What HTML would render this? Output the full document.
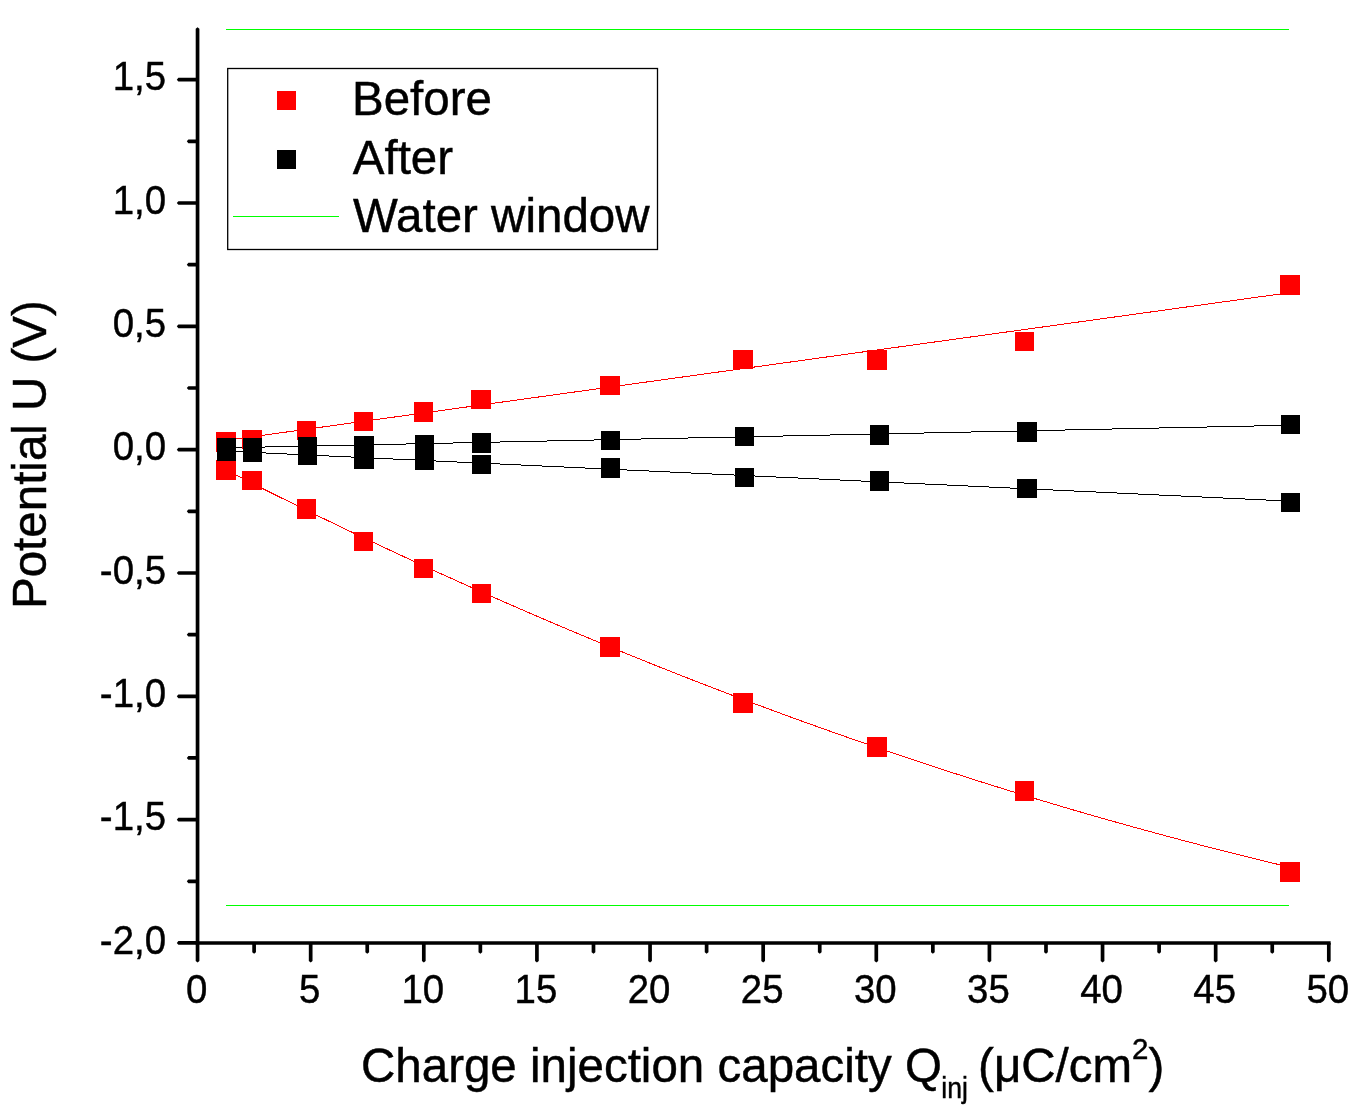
<!DOCTYPE html>
<html><head><meta charset="utf-8"><title>Potential vs charge injection capacity</title>
<style>
html,body{margin:0;padding:0;background:#fff;}
svg{display:block;}
.t{font-family:"Liberation Sans",Arial,sans-serif;fill:#000;stroke:#000;stroke-width:0.45px;}
</style></head>
<body>
<svg width="1358" height="1112" viewBox="0 0 1358 1112">
<rect width="1358" height="1112" fill="#fff"/>
<rect x="226" y="29" width="1063" height="1" fill="#00ff00"/>
<rect x="226" y="905" width="1063" height="1" fill="#00ff00"/>
<line x1="226" y1="440.42" x2="1290" y2="292.63" stroke="#ff0000" stroke-width="1" shape-rendering="crispEdges"/>
<polyline fill="none" stroke="#ff0000" stroke-width="1" shape-rendering="crispEdges" points="226,470.06 244.03,479.21 262.07,488.28 280.1,497.27 298.14,506.17 316.17,514.99 334.2,523.73 352.24,532.38 370.27,540.95 388.31,549.43 406.34,557.84 424.37,566.16 442.41,574.39 460.44,582.54 478.47,590.61 496.51,598.6 514.54,606.5 532.58,614.31 550.61,622.05 568.64,629.7 586.68,637.27 604.71,644.75 622.75,652.15 640.78,659.47 658.81,666.7 676.85,673.85 694.88,680.91 712.92,687.9 730.95,694.8 748.98,701.61 767.02,708.34 785.05,714.99 803.08,721.56 821.12,728.04 839.15,734.44 857.19,740.75 875.22,746.98 893.25,753.13 911.29,759.19 929.32,765.17 947.36,771.07 965.39,776.88 983.42,782.61 1001.46,788.26 1019.49,793.82 1037.53,799.3 1055.56,804.69 1073.59,810.01 1091.63,815.23 1109.66,820.38 1127.69,825.44 1145.73,830.42 1163.76,835.31 1181.8,840.12 1199.83,844.85 1217.86,849.5 1235.9,854.06 1253.93,858.53 1271.97,862.93 1290,867.24"/>
<line x1="226" y1="447.83" x2="1290" y2="425.23" stroke="#000000" stroke-width="1" shape-rendering="crispEdges"/>
<line x1="226" y1="451.15" x2="1290" y2="501.14" stroke="#000000" stroke-width="1" shape-rendering="crispEdges"/>
<rect x="216.05" y="432.25" width="19.5" height="19.5" fill="#ff0000" shape-rendering="crispEdges"/>
<rect x="242.35" y="429.95" width="19.5" height="19.5" fill="#ff0000" shape-rendering="crispEdges"/>
<rect x="296.95" y="420.75" width="19.5" height="19.5" fill="#ff0000" shape-rendering="crispEdges"/>
<rect x="353.65" y="411.75" width="19.5" height="19.5" fill="#ff0000" shape-rendering="crispEdges"/>
<rect x="413.65" y="402.25" width="19.5" height="19.5" fill="#ff0000" shape-rendering="crispEdges"/>
<rect x="471.25" y="389.75" width="19.5" height="19.5" fill="#ff0000" shape-rendering="crispEdges"/>
<rect x="600.25" y="375.95" width="19.5" height="19.5" fill="#ff0000" shape-rendering="crispEdges"/>
<rect x="733.25" y="349.55" width="19.5" height="19.5" fill="#ff0000" shape-rendering="crispEdges"/>
<rect x="867.05" y="350.05" width="19.5" height="19.5" fill="#ff0000" shape-rendering="crispEdges"/>
<rect x="1014.75" y="331.65" width="19.5" height="19.5" fill="#ff0000" shape-rendering="crispEdges"/>
<rect x="1280.05" y="275.35" width="19.5" height="19.5" fill="#ff0000" shape-rendering="crispEdges"/>
<rect x="216.05" y="460.25" width="19.5" height="19.5" fill="#ff0000" shape-rendering="crispEdges"/>
<rect x="242.35" y="470.75" width="19.5" height="19.5" fill="#ff0000" shape-rendering="crispEdges"/>
<rect x="296.95" y="499.05" width="19.5" height="19.5" fill="#ff0000" shape-rendering="crispEdges"/>
<rect x="353.55" y="531.85" width="19.5" height="19.5" fill="#ff0000" shape-rendering="crispEdges"/>
<rect x="413.85" y="558.75" width="19.5" height="19.5" fill="#ff0000" shape-rendering="crispEdges"/>
<rect x="471.65" y="583.85" width="19.5" height="19.5" fill="#ff0000" shape-rendering="crispEdges"/>
<rect x="600.25" y="637.25" width="19.5" height="19.5" fill="#ff0000" shape-rendering="crispEdges"/>
<rect x="733.45" y="693.35" width="19.5" height="19.5" fill="#ff0000" shape-rendering="crispEdges"/>
<rect x="867.15" y="737.25" width="19.5" height="19.5" fill="#ff0000" shape-rendering="crispEdges"/>
<rect x="1014.55" y="781.05" width="19.5" height="19.5" fill="#ff0000" shape-rendering="crispEdges"/>
<rect x="1280.05" y="862.25" width="19.5" height="19.5" fill="#ff0000" shape-rendering="crispEdges"/>
<rect x="216.55" y="438.25" width="19.5" height="19.5" fill="#000000" shape-rendering="crispEdges"/>
<rect x="242.95" y="438.45" width="19.5" height="19.5" fill="#000000" shape-rendering="crispEdges"/>
<rect x="297.55" y="437.05" width="19.5" height="19.5" fill="#000000" shape-rendering="crispEdges"/>
<rect x="354.15" y="435.75" width="19.5" height="19.5" fill="#000000" shape-rendering="crispEdges"/>
<rect x="414.75" y="434.5" width="19.5" height="19.5" fill="#000000" shape-rendering="crispEdges"/>
<rect x="471.85" y="433.05" width="19.5" height="19.5" fill="#000000" shape-rendering="crispEdges"/>
<rect x="600.85" y="430.55" width="19.5" height="19.5" fill="#000000" shape-rendering="crispEdges"/>
<rect x="734.55" y="426.85" width="19.5" height="19.5" fill="#000000" shape-rendering="crispEdges"/>
<rect x="869.55" y="425.05" width="19.5" height="19.5" fill="#000000" shape-rendering="crispEdges"/>
<rect x="1017.15" y="422.45" width="19.5" height="19.5" fill="#000000" shape-rendering="crispEdges"/>
<rect x="1280.65" y="414.85" width="19.5" height="19.5" fill="#000000" shape-rendering="crispEdges"/>
<rect x="216.55" y="441.75" width="19.5" height="19.5" fill="#000000" shape-rendering="crispEdges"/>
<rect x="242.95" y="442.85" width="19.5" height="19.5" fill="#000000" shape-rendering="crispEdges"/>
<rect x="297.55" y="445.35" width="19.5" height="19.5" fill="#000000" shape-rendering="crispEdges"/>
<rect x="354.15" y="449.25" width="19.5" height="19.5" fill="#000000" shape-rendering="crispEdges"/>
<rect x="414.75" y="450.35" width="19.5" height="19.5" fill="#000000" shape-rendering="crispEdges"/>
<rect x="471.85" y="454.55" width="19.5" height="19.5" fill="#000000" shape-rendering="crispEdges"/>
<rect x="600.85" y="458.25" width="19.5" height="19.5" fill="#000000" shape-rendering="crispEdges"/>
<rect x="734.55" y="467.85" width="19.5" height="19.5" fill="#000000" shape-rendering="crispEdges"/>
<rect x="869.55" y="471.45" width="19.5" height="19.5" fill="#000000" shape-rendering="crispEdges"/>
<rect x="1017.15" y="478.55" width="19.5" height="19.5" fill="#000000" shape-rendering="crispEdges"/>
<rect x="1280.65" y="492.75" width="19.5" height="19.5" fill="#000000" shape-rendering="crispEdges"/>
<polygon fill="#000" points="197.55,27.2 199.4,28.8 199.4,943 195.7,943 195.7,28.8"/>
<polygon fill="#000" points="195.7,941.15 1330.65,941.15 1330.65,944.85 195.7,944.85"/>
<polygon fill="#000" points="197.55,941.12 178.4,941.12 176.8,942.97 178.4,944.82 197.55,944.82"/>
<polygon fill="#000" points="197.55,879.45 188.4,879.45 186.8,881.3 188.4,883.15 197.55,883.15"/>
<polygon fill="#000" points="197.55,817.79 178.4,817.79 176.8,819.64 178.4,821.49 197.55,821.49"/>
<polygon fill="#000" points="197.55,756.12 188.4,756.12 186.8,757.97 188.4,759.82 197.55,759.82"/>
<polygon fill="#000" points="197.55,694.46 178.4,694.46 176.8,696.31 178.4,698.16 197.55,698.16"/>
<polygon fill="#000" points="197.55,632.79 188.4,632.79 186.8,634.64 188.4,636.5 197.55,636.5"/>
<polygon fill="#000" points="197.55,571.13 178.4,571.13 176.8,572.98 178.4,574.83 197.55,574.83"/>
<polygon fill="#000" points="197.55,509.46 188.4,509.46 186.8,511.31 188.4,513.16 197.55,513.16"/>
<polygon fill="#000" points="197.55,447.8 178.4,447.8 176.8,449.65 178.4,451.5 197.55,451.5"/>
<polygon fill="#000" points="197.55,386.13 188.4,386.13 186.8,387.98 188.4,389.83 197.55,389.83"/>
<polygon fill="#000" points="197.55,324.47 178.4,324.47 176.8,326.32 178.4,328.17 197.55,328.17"/>
<polygon fill="#000" points="197.55,262.8 188.4,262.8 186.8,264.65 188.4,266.5 197.55,266.5"/>
<polygon fill="#000" points="197.55,201.14 178.4,201.14 176.8,202.99 178.4,204.84 197.55,204.84"/>
<polygon fill="#000" points="197.55,139.47 188.4,139.47 186.8,141.32 188.4,143.17 197.55,143.17"/>
<polygon fill="#000" points="197.55,77.81 178.4,77.81 176.8,79.66 178.4,81.51 197.55,81.51"/>
<polygon fill="#000" points="195.7,943 195.7,961 197.55,962.6 199.4,961 199.4,943"/>
<polygon fill="#000" points="252.26,943 252.26,952.2 254.11,953.8 255.96,952.2 255.96,943"/>
<polygon fill="#000" points="308.82,943 308.82,961 310.68,962.6 312.53,961 312.53,943"/>
<polygon fill="#000" points="365.39,943 365.39,952.2 367.24,953.8 369.09,952.2 369.09,943"/>
<polygon fill="#000" points="421.95,943 421.95,961 423.8,962.6 425.65,961 425.65,943"/>
<polygon fill="#000" points="478.51,943 478.51,952.2 480.36,953.8 482.21,952.2 482.21,943"/>
<polygon fill="#000" points="535.07,943 535.07,961 536.92,962.6 538.77,961 538.77,943"/>
<polygon fill="#000" points="591.64,943 591.64,952.2 593.49,953.8 595.34,952.2 595.34,943"/>
<polygon fill="#000" points="648.2,943 648.2,961 650.05,962.6 651.9,961 651.9,943"/>
<polygon fill="#000" points="704.76,943 704.76,952.2 706.61,953.8 708.46,952.2 708.46,943"/>
<polygon fill="#000" points="761.32,943 761.32,961 763.17,962.6 765.02,961 765.02,943"/>
<polygon fill="#000" points="817.89,943 817.89,952.2 819.74,953.8 821.59,952.2 821.59,943"/>
<polygon fill="#000" points="874.45,943 874.45,961 876.3,962.6 878.15,961 878.15,943"/>
<polygon fill="#000" points="931.01,943 931.01,952.2 932.86,953.8 934.71,952.2 934.71,943"/>
<polygon fill="#000" points="987.57,943 987.57,961 989.42,962.6 991.27,961 991.27,943"/>
<polygon fill="#000" points="1044.14,943 1044.14,952.2 1045.99,953.8 1047.84,952.2 1047.84,943"/>
<polygon fill="#000" points="1100.7,943 1100.7,961 1102.55,962.6 1104.4,961 1104.4,943"/>
<polygon fill="#000" points="1157.26,943 1157.26,952.2 1159.11,953.8 1160.96,952.2 1160.96,943"/>
<polygon fill="#000" points="1213.83,943 1213.83,961 1215.67,962.6 1217.52,961 1217.52,943"/>
<polygon fill="#000" points="1270.39,943 1270.39,952.2 1272.24,953.8 1274.09,952.2 1274.09,943"/>
<polygon fill="#000" points="1326.95,943 1326.95,961 1328.8,962.6 1330.65,961 1330.65,943"/>
<text transform="translate(166,953.52) scale(0.96,1)" text-anchor="end" class="t" font-size="40">-2,0</text>
<text transform="translate(166,830.19) scale(0.96,1)" text-anchor="end" class="t" font-size="40">-1,5</text>
<text transform="translate(166,706.86) scale(0.96,1)" text-anchor="end" class="t" font-size="40">-1,0</text>
<text transform="translate(166,583.53) scale(0.96,1)" text-anchor="end" class="t" font-size="40">-0,5</text>
<text transform="translate(166,460.2) scale(0.96,1)" text-anchor="end" class="t" font-size="40">0,0</text>
<text transform="translate(166,336.87) scale(0.96,1)" text-anchor="end" class="t" font-size="40">0,5</text>
<text transform="translate(166,213.54) scale(0.96,1)" text-anchor="end" class="t" font-size="40">1,0</text>
<text transform="translate(166,90.21) scale(0.96,1)" text-anchor="end" class="t" font-size="40">1,5</text>
<text transform="translate(196.6,1002.6) scale(0.96,1)" text-anchor="middle" class="t" font-size="40">0</text>
<text transform="translate(309.73,1002.6) scale(0.96,1)" text-anchor="middle" class="t" font-size="40">5</text>
<text transform="translate(422.85,1002.6) scale(0.96,1)" text-anchor="middle" class="t" font-size="40">10</text>
<text transform="translate(535.97,1002.6) scale(0.96,1)" text-anchor="middle" class="t" font-size="40">15</text>
<text transform="translate(649.1,1002.6) scale(0.96,1)" text-anchor="middle" class="t" font-size="40">20</text>
<text transform="translate(762.22,1002.6) scale(0.96,1)" text-anchor="middle" class="t" font-size="40">25</text>
<text transform="translate(875.35,1002.6) scale(0.96,1)" text-anchor="middle" class="t" font-size="40">30</text>
<text transform="translate(988.47,1002.6) scale(0.96,1)" text-anchor="middle" class="t" font-size="40">35</text>
<text transform="translate(1101.6,1002.6) scale(0.96,1)" text-anchor="middle" class="t" font-size="40">40</text>
<text transform="translate(1214.72,1002.6) scale(0.96,1)" text-anchor="middle" class="t" font-size="40">45</text>
<text transform="translate(1327.85,1002.6) scale(0.96,1)" text-anchor="middle" class="t" font-size="40">50</text>
<text x="361" y="1081.7" class="t" font-size="47.5">Charge injection capacity Q</text>
<text transform="translate(941.3,1098.3) scale(0.9,1)" class="t" font-size="29.5">inj</text>
<text x="978.1" y="1081.7" class="t" font-size="47.5">(μC/cm</text>
<text x="1132.1" y="1059.1" class="t" font-size="29.5">2</text>
<text x="1148.5" y="1081.7" class="t" font-size="47.5">)</text>
<text transform="translate(45.8,609) rotate(-90)" class="t" font-size="47.5">Potential U (V)</text>
<rect x="227.7" y="68.5" width="429.8" height="181" fill="none" stroke="#000" stroke-width="1.3"/>
<rect x="277.1" y="90.6" width="19" height="19" fill="#ff0000" shape-rendering="crispEdges"/>
<rect x="277.1" y="149.6" width="19" height="19" fill="#000000" shape-rendering="crispEdges"/>
<rect x="233" y="216" width="106" height="1" fill="#00ff00"/>
<text x="352" y="115.1" class="t" font-size="47.5">Before</text>
<text x="352.8" y="174.3" class="t" font-size="47.5">After</text>
<text x="353" y="232.3" class="t" font-size="47.5">Water window</text>
</svg>
</body></html>
